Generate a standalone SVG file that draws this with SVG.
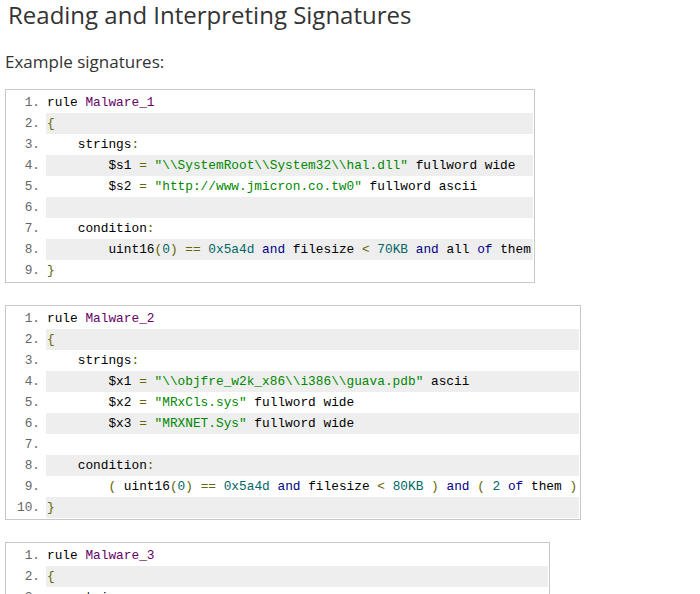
<svg xmlns="http://www.w3.org/2000/svg" width="700" height="594" viewBox="0 0 700 594">
<style>
.h{font-family:"Open Sans","Liberation Sans",sans-serif;fill:#333}
.c{font-family:"Liberation Mono","DejaVu Sans Mono",monospace;font-size:12.8px;fill:#000;white-space:pre}
.n{font-family:"Liberation Mono","DejaVu Sans Mono",monospace;font-size:12.8px;fill:#666;text-anchor:end}
.box{fill:#fff;stroke:#c8c8c8;stroke-width:1}
.band{fill:#eee}
.t{fill:#660066}.p{fill:#666600}.s{fill:#008800}.k{fill:#000088}.d{fill:#006666}
</style>
<rect width="700" height="594" fill="#fff"/>
<text class="h" x="8" y="24" font-size="24">Reading and Interpreting Signatures</text>
<text class="h" x="5" y="68" font-size="17">Example signatures:</text>

<g id="rule1">
<rect class="box" x="5.5" y="89.5" width="529" height="193"/>
<rect class="band" x="46" y="113" width="487" height="21"/>
<rect class="band" x="46" y="155" width="487" height="21"/>
<rect class="band" x="46" y="197" width="487" height="21"/>
<rect class="band" x="46" y="239" width="487" height="21"/>
<text class="n" x="40" y="106">1.</text><text class="n" x="40" y="127">2.</text><text class="n" x="40" y="148">3.</text><text class="n" x="40" y="169">4.</text><text class="n" x="40" y="190">5.</text><text class="n" x="40" y="211">6.</text><text class="n" x="40" y="232">7.</text><text class="n" x="40" y="253">8.</text><text class="n" x="40" y="274">9.</text>
<text class="c" x="47" y="106">rule <tspan class="t">Malware_1</tspan></text>
<text class="c p" x="47" y="127">{</text>
<text class="c" x="47" y="148">    strings<tspan class="p">:</tspan></text>
<text class="c" x="47" y="169">        $s1 <tspan class="p">=</tspan> <tspan class="s">"\\SystemRoot\\System32\\hal.dll"</tspan> fullword wide</text>
<text class="c" x="47" y="190">        $s2 <tspan class="p">=</tspan> <tspan class="s">"http://www.jmicron.co.tw0"</tspan> fullword ascii</text>
<text class="c" x="47" y="232">    condition<tspan class="p">:</tspan></text>
<text class="c" x="47" y="253">        uint16<tspan class="p">(</tspan><tspan class="d">0</tspan><tspan class="p">)</tspan> <tspan class="p">==</tspan> <tspan class="d">0x5a4d</tspan> <tspan class="k">and</tspan> filesize <tspan class="p">&lt;</tspan> <tspan class="d">70KB</tspan> <tspan class="k">and</tspan> all <tspan class="k">of</tspan> them</text>
<text class="c p" x="47" y="274">}</text>
</g>

<g id="rule2">
<rect class="box" x="5.5" y="305.5" width="575" height="214"/>
<rect class="band" x="46" y="329" width="533" height="21"/>
<rect class="band" x="46" y="371" width="533" height="21"/>
<rect class="band" x="46" y="413" width="533" height="21"/>
<rect class="band" x="46" y="455" width="533" height="21"/>
<rect class="band" x="46" y="497" width="533" height="21"/>
<text class="n" x="40" y="322">1.</text><text class="n" x="40" y="343">2.</text><text class="n" x="40" y="364">3.</text><text class="n" x="40" y="385">4.</text><text class="n" x="40" y="406">5.</text><text class="n" x="40" y="427">6.</text><text class="n" x="40" y="448">7.</text><text class="n" x="40" y="469">8.</text><text class="n" x="40" y="490">9.</text><text class="n" x="40" y="511">10.</text>
<text class="c" x="47" y="322">rule <tspan class="t">Malware_2</tspan></text>
<text class="c p" x="47" y="343">{</text>
<text class="c" x="47" y="364">    strings<tspan class="p">:</tspan></text>
<text class="c" x="47" y="385">        $x1 <tspan class="p">=</tspan> <tspan class="s">"\\objfre_w2k_x86\\i386\\guava.pdb"</tspan> ascii</text>
<text class="c" x="47" y="406">        $x2 <tspan class="p">=</tspan> <tspan class="s">"MRxCls.sys"</tspan> fullword wide</text>
<text class="c" x="47" y="427">        $x3 <tspan class="p">=</tspan> <tspan class="s">"MRXNET.Sys"</tspan> fullword wide</text>
<text class="c" x="47" y="469">    condition<tspan class="p">:</tspan></text>
<text class="c" x="47" y="490">        <tspan class="p">(</tspan> uint16<tspan class="p">(</tspan><tspan class="d">0</tspan><tspan class="p">)</tspan> <tspan class="p">==</tspan> <tspan class="d">0x5a4d</tspan> <tspan class="k">and</tspan> filesize <tspan class="p">&lt;</tspan> <tspan class="d">80KB</tspan> <tspan class="p">)</tspan> <tspan class="k">and</tspan> <tspan class="p">(</tspan> <tspan class="d">2</tspan> <tspan class="k">of</tspan> them <tspan class="p">)</tspan></text>
<text class="c p" x="47" y="511">}</text>
</g>

<g id="rule3">
<rect class="box" x="5.5" y="542.5" width="544" height="60"/>
<rect class="band" x="46" y="566" width="502" height="21"/>
<text class="n" x="40" y="559">1.</text><text class="n" x="40" y="580">2.</text><text class="n" x="40" y="601">3.</text>
<text class="c" x="47" y="559">rule <tspan class="t">Malware_3</tspan></text>
<text class="c p" x="47" y="580">{</text>
<text class="c" x="47" y="601">    strings<tspan class="p">:</tspan></text>
</g>
<g id="connectors"/>
</svg>
